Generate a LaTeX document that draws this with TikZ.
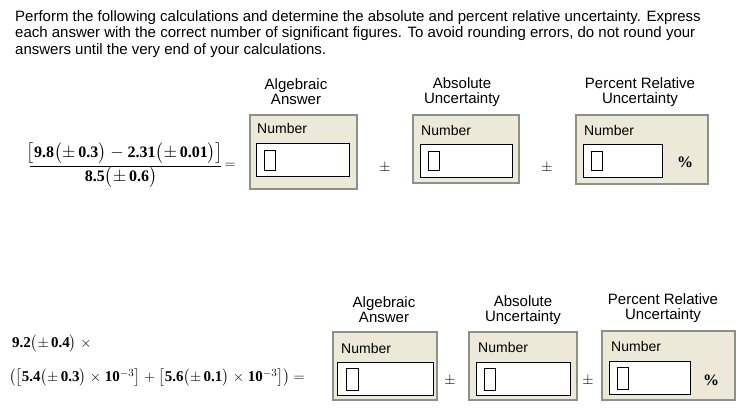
\documentclass[tikz,border=0pt]{standalone}
\usepackage{amsmath}
\usepackage{fontspec}
\setmainfont{Liberation Sans}
\newfontfamily\tms{Liberation Serif}
\begin{document}
\begin{tikzpicture}[x=1pt,y=-1pt,
  outerbox/.style={fill=boxbg,draw=boxedge,line width=2.5pt},
  inbox/.style={fill=white,draw=black,line width=0.7pt},
  caret/.style={draw=black,line width=0.5pt},
  lab/.style={font=\fontsize{15}{15}\selectfont,align=center,inner sep=0pt},
  numlab/.style={font=\fontsize{14}{14}\selectfont,anchor=west,inner sep=0pt},
  eq/.style={font=\tms\bfseries\fontsize{16}{16}\selectfont,inner sep=0pt},
  eqs/.style={font=\tms\bfseries\fontsize{15}{15}\selectfont,inner sep=0pt},
  pm/.style={font=\fontsize{15}{15}\selectfont,inner sep=0pt}]
\definecolor{boxbg}{HTML}{ECE9D8}
\definecolor{boxedge}{HTML}{8C918A}
\useasboundingbox (0,0) rectangle (746,407);
\node[anchor=north west,align=left,inner sep=0pt,font=\fontsize{15}{16.5}\selectfont] (intro) at (15,10)
 {Perform the following calculations and determine the absolute and percent relative uncertainty. Express\\
  each answer with the correct number of significant figures. To avoid rounding errors, do not round your\\
  answers until the very end of your calculations.};
% --- top row
\node[lab] (l1) at (296,92) {Algebraic\\Answer};
\node[lab] (l2) at (462,92) {Absolute\\Uncertainty};
\node[lab] (l3) at (640,92) {Percent Relative\\Uncertainty};
\draw[outerbox] (250,115) rectangle (357,189);
\draw[inbox] (256,143) rectangle (349,176);
\draw[caret] (264,150) rectangle (275,170);
\node[numlab] (n1) at (257,128) {Number};
\draw[outerbox] (413,115) rectangle (519,183);
\draw[inbox] (420,144) rectangle (512,177);
\draw[caret] (428,151) rectangle (439,170);
\node[numlab] (n2) at (421,130) {Number};
\draw[outerbox] (576,115) rectangle (708,184);
\draw[inbox] (583,144) rectangle (662,177);
\draw[caret] (591,151) rectangle (602,170);
\node[numlab] (n3) at (584,130) {Number};
\node[eq] (pc1) at (685,162) {\%};
\node[pm] (pm1) at (385,168) {$\pm$};
\node[pm] (pm2) at (547,168) {$\pm$};
\node[eq] (num1) at (125,153) {$\bigl[$9.8$\bigl(\pm\,$0.3$\bigr)$ {\mdseries$-$} 2.31$\bigl(\pm\,$0.01$\bigr)\bigr]$};
\node[eq] (den1) at (121,177) {8.5$\bigl(\pm\,$0.6$\bigr)$};
\draw[line width=0.8pt] (30,166) -- (221,166);
\node[eq,font=\fontsize{15}{15}\selectfont] (eq1) at (230,166) {$=$};
% --- bottom row
\node[lab] (m1) at (384,310) {Algebraic\\Answer};
\node[lab] (m2) at (523,310) {Absolute\\Uncertainty};
\node[lab] (m3) at (663,308) {Percent Relative\\Uncertainty};
\draw[outerbox] (333,332) rectangle (437,400);
\draw[inbox] (337,362) rectangle (433,395);
\draw[caret] (346,368) rectangle (358,390);
\node[numlab] (o1) at (341,348) {Number};
\draw[outerbox] (469,332) rectangle (577,400);
\draw[inbox] (476,362) rectangle (570,395);
\draw[caret] (484,368) rectangle (495,390);
\node[numlab] (o2) at (478,347) {Number};
\draw[outerbox] (602,331) rectangle (735,400);
\draw[inbox] (609,361) rectangle (690,394);
\draw[caret] (617,367) rectangle (628,389);
\node[numlab] (o3) at (611,346) {Number};
\node[eq] (pc2) at (711,380) {\%};
\node[pm] (pm3) at (450,381) {$\pm$};
\node[pm] (pm4) at (588,381) {$\pm$};
\node[eqs,anchor=west] (l21) at (12,344) {9.2$\bigl(\pm\,$0.4$\bigr)$ {\mdseries$\times$}};
\node[eqs,anchor=west] (l22) at (9,378) {$\bigl(\bigl[$5.4$\bigl(\pm\,$0.3$\bigr)$ {\mdseries$\times$} 10$^{-3}\bigr]$ {\mdseries$+$} $\bigl[$5.6$\bigl(\pm\,$0.1$\bigr)$ {\mdseries$\times$} 10$^{-3}\bigr]\bigr)$ {\mdseries$=$}};
\end{tikzpicture}
\end{document}
